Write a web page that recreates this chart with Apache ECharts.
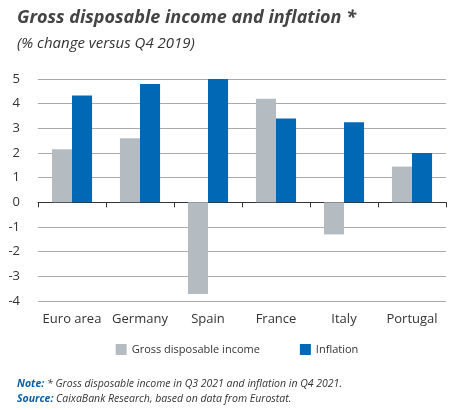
<!DOCTYPE html>
<html>
<head>
<meta charset="UTF-8">
<script src="https://cdn.jsdelivr.net/npm/echarts@6/dist/echarts.min.js"></script>
<style>
html,body{margin:0;padding:0;background:#fff;}
#chart{width:474px;height:410px;}
</style>
</head>
<body>
<div id="chart"></div>
<script>
var categories = ['Euro area', 'Germany', 'Spain', 'France', 'Italy', 'Portugal'];
var incomeValues = [2.15, 2.6, -3.72, 4.2, -1.3, 1.45];
var inflationValues = [4.33, 4.8, 5.0, 3.4, 3.25, 2.0];

var chart = echarts.init(document.getElementById('chart'));
var font = "'Open Sans', sans-serif";
chart.setOption({
    animation: false,
    textStyle: { fontFamily: font },
    title: [
        { text: 'Gross disposable income and inflation *', left: 12, top: 4,
          textStyle: { fontSize: 18, fontWeight: 'bold', fontStyle: 'italic', color: '#444' } },
        { text: '(% change versus Q4 2019)', left: 12, top: 31,
          textStyle: { fontSize: 15, fontWeight: 'normal', fontStyle: 'italic', color: '#333' } },
        { text: '{b|Note:} * Gross disposable income in Q3 2021 and inflation in Q4 2021.\n{b|Source:} CaixaBank Research, based on data from Eurostat.',
          left: 12, top: 372,
          textStyle: { fontSize: 10.5, fontStyle: 'italic', fontWeight: 'normal', color: '#333', lineHeight: 15,
            rich: { b: { fontSize: 10.5, fontStyle: 'italic', fontWeight: 'bold', color: '#0b5fa5' } } } }
    ],
    legend: {
        bottom: 50, left: 'center', itemGap: 40, itemWidth: 11, itemHeight: 11,
        icon: 'rect', textStyle: { fontSize: 11, color: '#333' },
        data: ['Gross disposable income', 'Inflation']
    },
    grid: { left: 38, right: 28, top: 79, bottom: 109 },
    xAxis: {
        type: 'category', data: categories,
        axisLine: { onZero: true, lineStyle: { color: '#333' } },
        axisTick: { show: true, length: 5, lineStyle: { color: '#333' } },
        axisLabel: { interval: 0, fontSize: 13, color: '#333', margin: 12 },
        position: 'bottom'
    },
    yAxis: {
        type: 'value', min: -4, max: 5, interval: 1,
        axisLine: { show: false }, axisTick: { show: false },
        axisLabel: { fontSize: 13, color: '#333', margin: 18 },
        splitLine: { lineStyle: { color: '#aaa' } }
    },
    series: [
        { name: 'Gross disposable income', type: 'bar', data: incomeValues,
          itemStyle: { color: '#b4bcc1' }, barGap: '0%', barCategoryGap: '41%' },
        { name: 'Inflation', type: 'bar', data: inflationValues,
          itemStyle: { color: '#0068b4' } }
    ]
});
</script>
</body>
</html>
